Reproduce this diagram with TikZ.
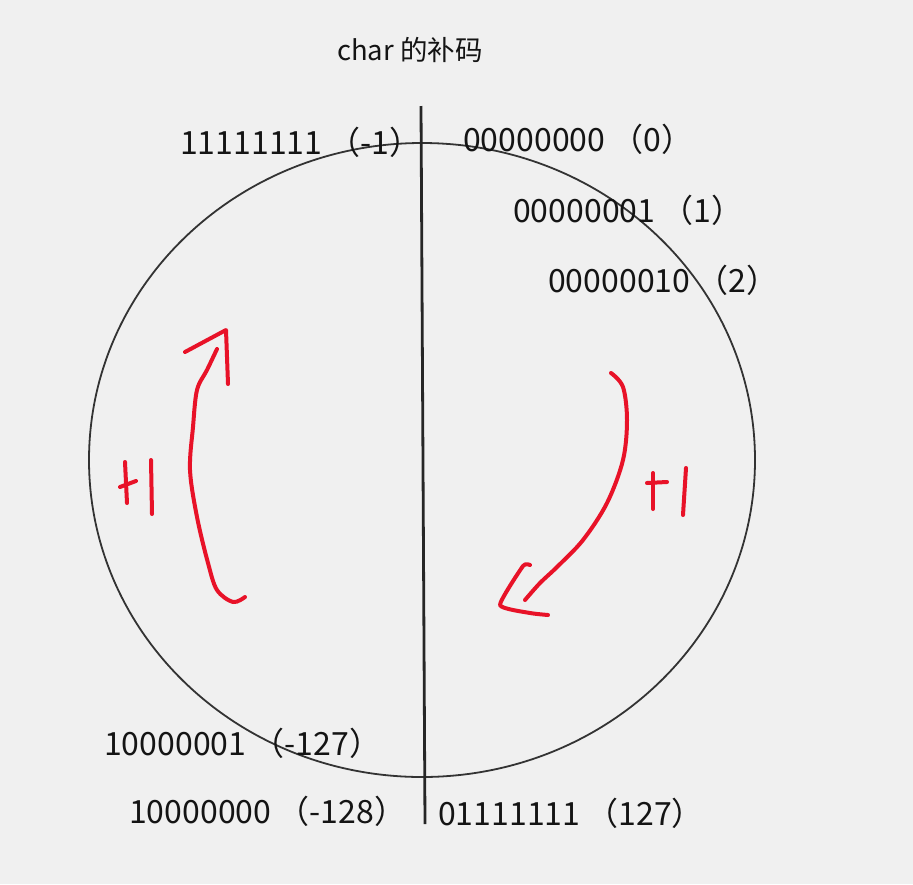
\documentclass[tikz,border=0pt]{standalone}
\usepackage{fontspec}
\setmainfont{Noto Sans CJK SC}
\newcommand{\pgap}{\hspace{0.2em}}
\begin{document}
\begin{tikzpicture}[x=1pt,y=-1pt,
  lbl/.style={anchor=base west,inner sep=0pt,text=black!92,font=\fontsize{32}{38}\selectfont},
  ttl/.style={anchor=base west,inner sep=0pt,text=black!92,font=\fontsize{27.5}{32}\selectfont},
  redpen/.style={color={rgb,255:red,232;green,18;blue,40},line width=4pt,line cap=round,line join=round},
  ring/.style={draw=black!80,line width=1.8pt},
  axis/.style={draw=black!85,line width=2.8pt}]
\fill[black!6] (0,0) rectangle (913,884);
\useasboundingbox (0,0) rectangle (913,884);
% circle
\draw[ring] (422,460) ellipse [x radius=333, y radius=317];
% axis
\coordinate (atop) at (421,106);
\coordinate (abot) at (425,824);
\draw[axis] (atop) -- (abot);
% title
\node[ttl] (title) at (337,60) {char 的补码};
% labels
\node[lbl] (m1) at (180,154) {11111111\pgap（-1）};
\node[lbl] (z0) at (463,151) {00000000\pgap（0）};
\node[lbl] (p1) at (513,222) {00000001\pgap（1）};
\node[lbl] (p2) at (548,292) {00000010\pgap（2）};
\node[lbl] (m127) at (104,755) {10000001\pgap（-127）};
\node[lbl] (m128) at (129,823) {10000000\pgap（-128）};
\node[lbl] (p127) at (438,825) {01111111\pgap（127）};
% left arrow
\draw[redpen] plot[smooth,tension=0.55] coordinates {(245,597) (233,602) (217,590) (208,563) (197,517) (190,470) (193,427) (197,390) (207,370) (217,349)};
\draw[redpen] (185,352) -- (226,330) -- (228,384);
% left +1
\draw[redpen] (125,462) -- (127,503);
\draw[redpen] (120,487) -- (136,481);
\draw[redpen] (151,460) -- (152,514);
% right arrow
\draw[redpen] plot[smooth,tension=0.55] coordinates {(611,373) (623,387) (627,420) (623,460) (607,503) (583,540) (557,567) (540,583) (525,600)};
\draw[redpen] plot[smooth,tension=0.3] coordinates {(530,565) (523,566) (500,605) (530,613) (548,615)};
% right +1
\draw[redpen] (653,473) -- (653,509);
\draw[redpen] (647,483) -- (667,482);
\draw[redpen] (686,468) -- (683,515);
\end{tikzpicture}
\end{document}
